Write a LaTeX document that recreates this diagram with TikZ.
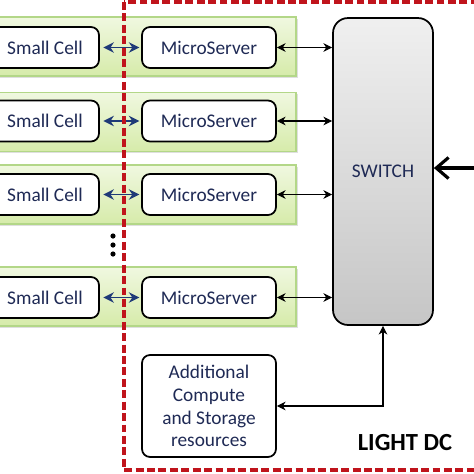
\documentclass[tikz,border=0pt]{standalone}
\usepackage{fontspec}
\setmainfont{Carlito}
\usetikzlibrary{arrows.meta,shadows}
\definecolor{txtblue}{HTML}{1F2A55}
\definecolor{arrblue}{HTML}{1F3A78}
\definecolor{bartop}{HTML}{F0F8E0}
\definecolor{barbot}{HTML}{D6EBAA}
\definecolor{barline}{HTML}{B3D788}
\definecolor{dcred}{HTML}{C0141C}
\begin{document}
\begin{tikzpicture}[x=0.02cm,y=-0.02cm,
  bar/.style={draw=barline,line width=0.8pt,top color=bartop,bottom color=barbot,
    minimum width=6.12cm,minimum height=1.18cm,inner sep=0pt,
    drop shadow={shadow xshift=1pt,shadow yshift=-1pt,opacity=0.25}},
  box/.style={draw,line width=1pt,rounded corners=0.16cm,fill=white,
    minimum width=2.68cm,minimum height=0.82cm,inner sep=0pt,text=txtblue,
    font=\fontsize{11}{13}\selectfont},
  cellbox/.style={box,minimum width=2.16cm},
  link/.style={{Stealth[length=5pt,width=5pt]}-{Stealth[length=5pt,width=5pt]},line width=0.6pt},
  bluelink/.style={{Stealth[length=6pt,width=6pt]}-{Stealth[length=6pt,width=6pt]},line width=1.1pt,arrblue,shorten <=2pt,shorten >=1pt}]
\useasboundingbox (0,0) rectangle (474,474);
% green rows
\node[bar] (bar1) at (143,46.5) {};
\node[bar] (bar2) at (143,122) {};
\node[bar] (bar3) at (143,194.5) {};
\node[bar] (bar4) at (143,296.5) {};
% cells and microservers
\node[cellbox] (sc1) at (45,47.5) {Small Cell};
\node[cellbox] (sc2) at (45,121) {Small Cell};
\node[cellbox] (sc3) at (45,194.5) {Small Cell};
\node[cellbox] (sc4) at (45,297.5) {Small Cell};
\node[box] (ms1) at (209,47.5) {MicroServer};
\node[box] (ms2) at (209,121) {MicroServer};
\node[box] (ms3) at (209,194.5) {MicroServer};
\node[box] (ms4) at (209,297.5) {MicroServer};
% switch
\node[draw,line width=1pt,rounded corners=0.3cm,top color=gray!12,bottom color=gray!45,
  minimum width=2cm,minimum height=6.14cm,text=txtblue,
  font=\fontsize{11}{13}\selectfont] (switch) at (383,171.5) {SWITCH};
\node[box,minimum height=2.04cm,align=center] (add) at (209,406)
  {Additional\\Compute\\and Storage\\resources};
\node[font=\fontsize{14}{16}\selectfont\bfseries] (dc) at (405,443) {LIGHT DC};
\fill (113,236) circle (2.6);
\fill (113,245) circle (2.6);
\fill (113,254) circle (2.6);
% links
\draw[bluelink] (sc1.east) -- (ms1.west);
\draw[bluelink] (sc2.east) -- (ms2.west);
\draw[bluelink] (sc3.east) -- (ms3.west);
\draw[bluelink] (sc4.east) -- (ms4.west);
\draw[link] (ms1.east) -- (ms1.east -| switch.west);
\draw[link] (ms2.east) -- (ms2.east -| switch.west);
\draw[link] (ms3.east) -- (ms3.east -| switch.west);
\draw[link] (ms4.east) -- (ms4.east -| switch.west);
\draw[link] (add.east) -| (switch.south);
\coordinate (ext) at (474,168);
\draw[line width=1.8pt,-{Straight Barb[length=7pt,width=12pt,line width=1.8pt]}] (ext) -- (ext -| switch.east);
% light dc frame
\draw[dcred,line width=2pt,dash pattern=on 4.5pt off 2pt] (124,2) rectangle (490,470);
\end{tikzpicture}
\end{document}
